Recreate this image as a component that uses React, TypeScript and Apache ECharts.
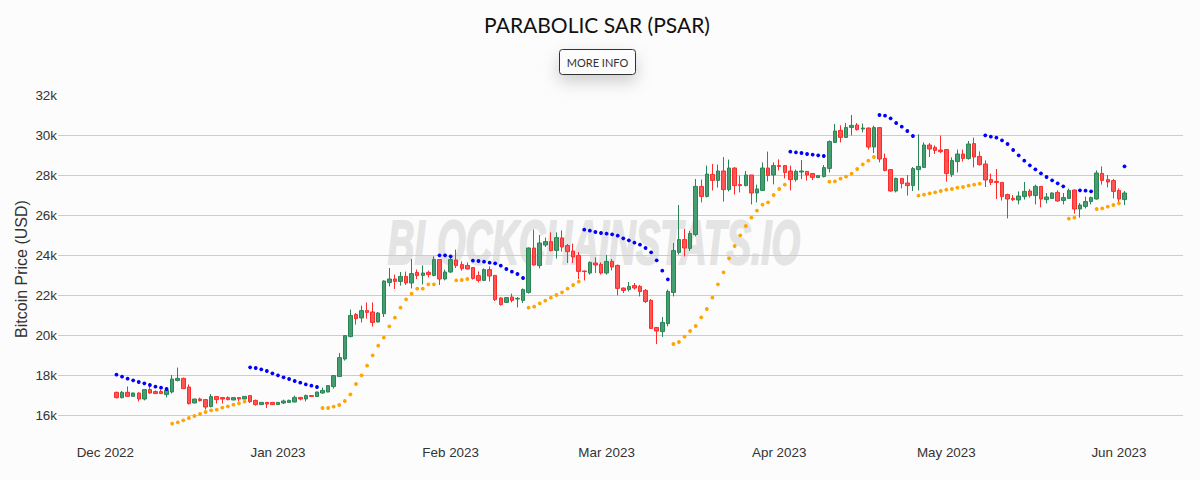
import { useEffect, useRef } from "react";
import * as echarts from "echarts";

const MONTHS = ["Jan", "Feb", "Mar", "Apr", "May", "Jun", "Jul", "Aug", "Sep", "Oct", "Nov", "Dec"];

// the axis runs a little past the data on both sides
const AXIS_START = Date.UTC(2022, 10, 23);
const AXIS_DAYS = 202;
const FIRST_CANDLE = 10; // 2022-12-03

const yTicks = { min: 14000, max: 32000, interval: 2000 };

// [open, close, low, high], one per day from 2022-12-03
const candles: number[][] = [
  [17133, 16867, 16830, 17170], [16867, 17133, 16830, 17200], [17133, 16933, 16900, 17430], [16933, 17100, 16920, 17120],
  [17100, 16800, 16680, 17130], [16800, 17270, 16730, 17300], [17270, 17100, 17070, 17400], [17170, 17070, 17060, 17230],
  [17170, 17070, 17060, 17270], [17020, 17230, 16880, 17350], [17150, 17800, 17070, 18000], [17730, 17830, 17680, 18370],
  [17830, 17320, 17300, 17870], [17400, 16570, 16520, 17530], [16600, 16800, 16590, 16810], [16800, 16720, 16670, 16870],
  [16770, 16400, 16270, 16800], [16420, 16920, 16380, 17050], [16920, 16770, 16570, 16930], [16870, 16800, 16570, 16880],
  [16870, 16770, 16730, 16930], [16750, 16870, 16740, 16880], [16870, 16800, 16680, 16880], [16800, 16930, 16790, 16940],
  [16970, 16670, 16600, 17000], [16730, 16520, 16470, 16770], [16520, 16630, 16510, 16650], [16630, 16550, 16350, 16640],
  [16630, 16520, 16500, 16650], [16520, 16630, 16510, 16640], [16600, 16700, 16550, 16770], [16630, 16730, 16610, 16770],
  [16650, 16880, 16630, 16970], [16880, 16800, 16730, 16890], [16800, 16970, 16680, 17020], [16970, 16930, 16925, 16975],
  [16920, 17150, 16910, 17170], [17100, 17230, 17070, 17370], [17150, 17470, 17140, 17490], [17420, 17970, 17320, 18000],
  [17920, 18870, 17900, 19100], [18800, 19970, 18720, 20000], [19920, 20980, 19880, 21270], [21020, 20820, 20520, 21100],
  [20850, 21220, 20630, 21470], [21220, 21130, 20820, 21630], [21150, 20630, 20420, 21630], [20650, 21100, 20630, 21150],
  [21067, 22700, 20900, 22730], [22630, 22800, 22430, 23350], [22800, 22680, 22300, 23020], [22680, 22930, 22470, 23150],
  [22930, 22600, 22500, 23170], [22600, 23070, 22330, 23800], [23130, 22970, 22800, 23270], [22980, 23100, 22530, 23480],
  [23130, 23020, 22880, 23220], [22980, 23770, 22930, 23930], [23770, 22800, 22500, 23770], [22800, 23150, 22730, 23270],
  [23150, 23770, 23100, 23930], [23750, 23470, 23350, 24270], [23520, 23320, 23220, 23680], [23480, 23300, 23270, 23630],
  [23370, 22830, 22770, 23400], [22970, 22730, 22630, 23180], [22730, 23270, 22730, 23330], [23270, 22950, 22680, 23430],
  [22980, 21770, 21700, 23000], [21850, 21520, 21470, 21900], [21630, 21870, 21620, 21880], [21900, 21730, 21630, 22070],
  [21800, 21830, 21380, 21900], [21730, 22270, 21600, 22330], [22130, 24350, 22070, 24380], [24350, 23500, 23470, 25270],
  [23470, 24600, 23330, 25000], [24500, 24670, 24400, 24870], [24670, 24220, 24180, 25130], [24230, 24870, 23820, 25130],
  [24850, 24400, 24170, 25230], [24470, 24170, 23600, 24550], [24200, 23900, 23600, 24570], [23970, 23180, 22800, 24150],
  [23200, 23170, 22730, 23220], [23100, 23630, 23020, 23680], [23600, 23500, 23100, 23880], [23530, 23100, 23020, 23630],
  [23100, 23680, 23020, 24000], [23680, 23400, 23230, 23800], [23480, 22330, 21980, 23520], [22350, 22230, 22100, 22370],
  [22270, 22430, 22180, 22650], [22470, 22350, 22270, 22600], [22430, 22170, 21930, 22500], [22230, 21670, 21600, 22300],
  [21730, 20330, 20300, 21800], [20380, 20200, 19550, 20390], [20170, 20630, 19900, 20900], [20570, 22180, 20430, 22270],
  [22130, 24220, 21930, 24600], [24130, 24770, 24020, 26500], [24770, 24350, 23930, 25300], [24330, 25070, 24200, 25200],
  [25020, 27430, 24930, 27800], [27430, 26930, 26630, 27770], [26930, 28050, 26880, 28470], [28030, 27730, 27230, 28550],
  [27730, 28200, 27370, 28520], [28200, 27270, 26670, 28900], [27270, 28350, 27180, 28770], [28350, 27470, 27020, 28380],
  [27520, 27470, 27130, 27970], [27470, 28000, 27430, 28200], [28000, 27100, 26530, 28000], [27100, 27300, 26630, 27520],
  [27230, 28350, 27200, 28630], [28350, 27980, 27680, 29170], [28000, 28470, 27530, 28630], [28470, 28430, 28230, 28780],
  [28470, 28130, 27830, 28500], [28200, 27770, 27230, 28470], [27770, 28180, 27670, 28270], [28150, 28200, 27800, 28750],
  [28180, 28000, 27720, 28200], [28070, 27880, 27750, 28100], [27870, 27970, 27850, 28000], [27920, 28370, 27880, 28500],
  [28330, 29670, 28130, 29730], [29630, 30200, 29600, 30550], [30230, 29880, 29630, 30480], [29880, 30380, 29850, 30600],
  [30380, 30480, 29980, 31000], [30500, 30270, 30220, 30600], [30300, 30350, 30130, 30570], [30350, 29400, 29270, 30370],
  [29400, 30370, 29100, 30470], [30370, 28800, 28630, 30370], [28830, 28230, 28180, 29070], [28270, 27200, 27170, 28300],
  [27200, 27830, 27130, 27870], [27830, 27570, 27330, 27850], [27600, 27470, 26970, 28000], [27470, 28320, 27200, 28400],
  [28270, 28430, 27230, 30030], [28380, 29500, 28350, 29630], [29500, 29300, 28900, 29600], [29380, 29230, 29050, 29480],
  [29250, 29170, 29100, 29970], [29270, 28070, 27670, 29300], [28030, 28720, 27900, 28880], [28670, 29050, 28130, 29270],
  [29050, 28830, 28670, 29270], [28820, 29550, 28770, 29700], [29570, 28900, 28380, 29870], [28930, 28520, 28470, 29180],
  [28550, 27750, 27400, 28730], [27770, 27630, 27500, 28070], [27680, 27630, 26800, 28300], [27630, 26930, 26720, 27650],
  [27020, 26800, 25830, 27070], [26830, 26770, 26700, 27000], [26750, 26950, 26530, 27180], [26920, 27180, 26770, 27650],
  [27200, 26970, 26870, 27300], [26970, 27430, 26530, 27520], [27430, 26800, 26380, 27450], [26770, 26900, 26580, 27100],
  [26830, 27100, 26800, 27130], [27130, 26700, 26670, 27230], [26730, 26870, 26530, 27100], [26830, 27230, 26820, 27320],
  [27250, 26300, 26070, 27270], [26300, 26500, 25870, 26600], [26430, 26670, 26330, 26920], [26670, 26870, 26530, 26920],
  [26800, 28100, 26770, 28230], [28080, 27730, 27520, 28430], [27770, 27650, 27380, 28000], [27720, 27180, 26830, 27800],
  [27230, 26800, 26630, 27330], [26770, 27100, 26500, 27200],
];

// SAR stretches: candle number where each starts, then its values
const sarAbove: [number, number[]][] = [
  [0, [18017, 17917, 17817, 17733, 17650, 17583, 17500, 17417, 17367, 17300]],
  [24, [18383, 18350, 18283, 18200, 18083, 17983, 17883, 17800, 17700, 17617, 17533, 17467, 17400]],
  [58, [23983, 23983, 23933]],
  [64, [23717, 23700, 23667, 23617, 23583, 23467, 23300, 23167, 23050, 22850]],
  [84, [25267, 25217, 25150, 25100, 25067, 25033, 24967, 24833, 24733, 24617, 24517, 24350, 24133, 23733, 23217, 22783]],
  [121, [29167, 29133, 29100, 29050, 29017, 28983, 28950]],
  [137, [31000, 30967, 30833, 30600, 30417, 30200, 29950]],
  [156, [29983, 29917, 29867, 29733, 29550, 29250, 28983, 28717, 28483, 28283, 28083, 27900, 27733, 27583, 27433]],
  [173, [27233, 27217, 27183]],
  [181, [28433]],
];

const sarBelow: [number, number[]][] = [
  [10, [15567, 15633, 15733, 15850, 15950, 16050, 16150, 16233, 16267, 16367, 16433, 16517, 16583, 16667]],
  [37, [16350, 16350, 16417, 16500, 16700, 17033, 17550, 17983, 18467, 18983, 19467, 19867, 20433, 20867, 21367, 21783, 22067, 22317, 22317, 22533, 22533]],
  [61, [22733, 22750, 22800]],
  [74, [21367, 21417, 21583, 21717, 21867, 22000, 22133, 22317, 22500, 22667]],
  [100, [19550, 19650, 19917, 20200, 20450, 20883, 21300, 21867, 22533, 23133, 23833, 24450, 24983, 25450, 25867, 26217, 26517, 26633, 27000, 27300, 27517]],
  [128, [27667, 27683, 27817, 27917, 28067, 28300, 28533, 28717, 28900]],
  [144, [26967, 27017, 27083, 27133, 27200, 27267, 27300, 27367, 27400, 27467, 27517, 27567]],
  [171, [25817, 25867]],
  [176, [26300, 26333, 26417, 26500, 26583]],
];

const categories = Array.from({ length: AXIS_DAYS }, (_, i) => {
  const d = new Date(AXIS_START + i * 86400000);
  return `${d.getUTCFullYear()}-${d.getUTCMonth()}-${d.getUTCDate()}`;
});

const monthLabel = (value: string) => {
  const [year, month] = value.split("-");
  return `${MONTHS[Number(month)]} ${year}`;
};

// empty slots before and after so the candles line up with the axis days
const candleData = [
  ...Array.from({ length: FIRST_CANDLE }, () => ["-", "-", "-", "-"]),
  ...candles,
];

const sarPoints = (runs: [number, number[]][]) =>
  runs.flatMap(([start, values]) => values.map((v, i) => [FIRST_CANDLE + start + i, v]));

const GREEN = "#459e70";
const GREEN_EDGE = "#2a8556";
const RED = "#ff5555";
const RED_EDGE = "#ff2a2a";
const BG = "#fcfcfc";

export default function App() {
  const chartRef = useRef<HTMLDivElement>(null);

  useEffect(() => {
    document.body.style.margin = "0";
    document.body.style.background = BG;
    if (!chartRef.current) return;
    const chart = echarts.init(chartRef.current, null, { renderer: "svg" });

    chart.setOption({
      animation: false,
      backgroundColor: BG,
      title: {
        text: "PARABOLIC SAR (PSAR)",
        left: 592,
        top: 9,
        textAlign: "center",
        textStyle: { fontFamily: "Lato", fontWeight: 400, fontSize: 21, color: "#111" },
      },
      grid: { left: 58, right: 17, top: 95, bottom: 25 },
      xAxis: {
        type: "category",
        data: categories,
        axisLine: { show: false },
        axisTick: { show: false },
        splitLine: { show: false },
        axisLabel: {
          margin: -9,
          interval: (_: number, value: string) => value.endsWith("-1"),
          formatter: monthLabel,
          color: "#333",
          fontFamily: "Liberation Sans",
          fontSize: 13.4,
        },
      },
      yAxis: {
        type: "value",
        min: yTicks.min,
        max: yTicks.max,
        interval: yTicks.interval,
        axisLine: { show: false },
        axisTick: { show: false },
        axisLabel: {
          margin: 1,
          showMinLabel: false,
          formatter: (v: number) => `${v / 1000}k`,
          color: "#333",
          fontFamily: "Liberation Sans",
          fontSize: 13.4,
        },
        splitLine: { showMinLine: false, showMaxLine: false, lineStyle: { color: "#ccc", width: 1 } },
      },
      graphic: [
        {
          type: "text",
          z: -1,
          silent: true,
          x: 594,
          y: 243,
          scaleX: 0.595,
          style: {
            text: "BLOCKCHAINSTATS.IO",
            fontFamily: "Liberation Sans",
            fontWeight: "bold",
            fontStyle: "italic",
            fontSize: 62,
            fill: "#e4e4e4",
            stroke: "#e4e4e4",
            lineWidth: 2,
            textAlign: "center",
            textVerticalAlign: "middle",
          },
        },
        {
          type: "text",
          x: 21,
          y: 269,
          rotation: Math.PI / 2,
          style: {
            text: "Bitcoin Price (USD)",
            fontFamily: "Liberation Sans",
            fontSize: 16,
            fill: "#333",
            textAlign: "center",
            textVerticalAlign: "middle",
          },
        },
        {
          type: "rect",
          shape: { x: 559.5, y: 49.5, width: 76, height: 25, r: 3 },
          style: {
            fill: BG,
            stroke: "#333",
            lineWidth: 1,
            shadowBlur: 16,
            shadowOffsetY: 7,
            shadowColor: "rgba(0,0,0,0.18)",
          },
        },
        {
          type: "text",
          x: 597.5,
          y: 62,
          style: {
            text: "MORE INFO",
            fontFamily: "Lato",
            fontSize: 11,
            fill: "#333",
            textAlign: "center",
            textVerticalAlign: "middle",
          },
        },
      ],
      series: [
        {
          type: "candlestick",
          barWidth: 4,
          data: candleData,
          itemStyle: {
            color: GREEN,
            color0: RED,
            borderColor: GREEN_EDGE,
            borderColor0: RED_EDGE,
            borderWidth: 1,
          },
        },
        {
          type: "scatter",
          symbolSize: 3.8,
          data: sarPoints(sarAbove),
          itemStyle: { color: "#0000ff", opacity: 1 },
        },
        {
          type: "scatter",
          symbolSize: 3.8,
          data: sarPoints(sarBelow),
          itemStyle: { color: "#ffa500", opacity: 1 },
        },
      ],
    });

    return () => chart.dispose();
  }, []);

  return <div ref={chartRef} style={{ width: 1200, height: 480 }} />;
}
